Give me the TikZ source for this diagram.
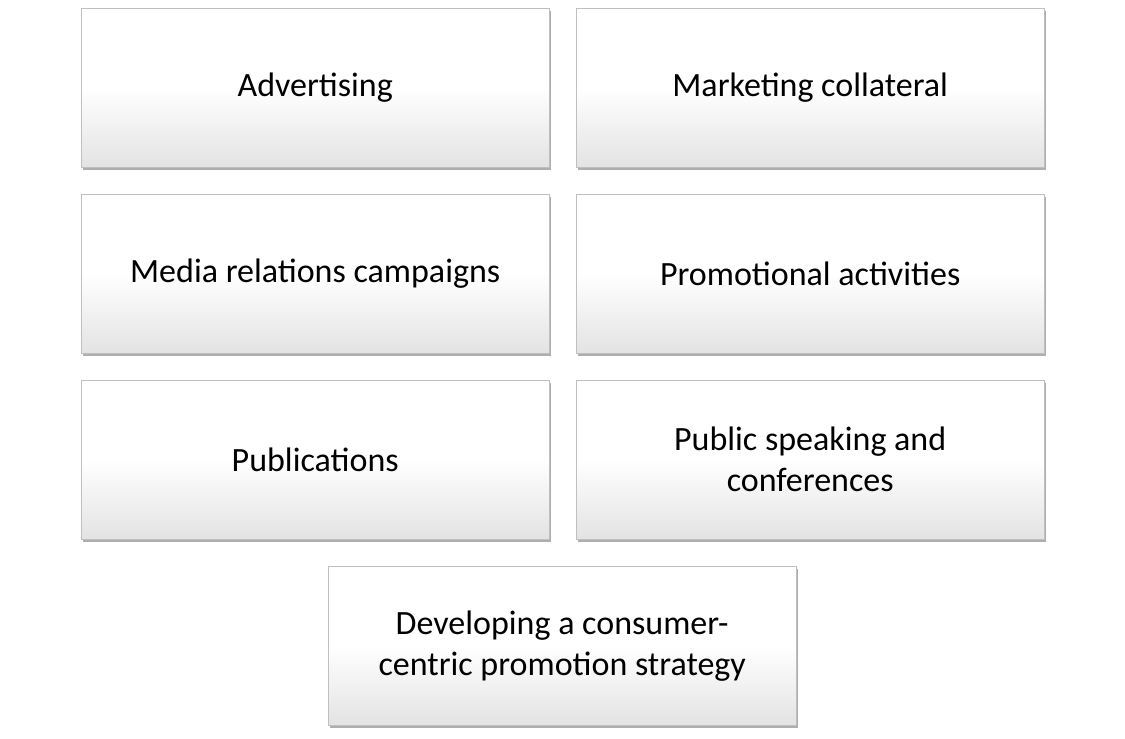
\documentclass[tikz,border=0pt]{standalone}
\usepackage{fontspec}
\setmainfont{Carlito}
\usetikzlibrary{shadows,positioning}
\begin{document}
\begin{tikzpicture}[x=1pt,y=-1pt,
  box/.style={minimum width=468pt,minimum height=159pt,anchor=north west,
    top color=white,bottom color=black!11,middle color=white,
    draw=black!25,line width=0.4pt,align=center,font=\fontsize{34}{41}\selectfont,
    drop shadow={shadow xshift=1.5pt,shadow yshift=-2.5pt,opacity=0.45,fill=black!70}}]
\useasboundingbox (0,0) rectangle (1125,739);
\node[box] (a) at (81,8) {Advertising};
\node[box] (b) at (576,8) {Marketing collateral};
\node[box] (c) at (81,194) {Media relations campaigns};
\node[box] (d) at (576,194) {Promotional activities};
\node[box] (e) at (81,380) {Publications};
\node[box] (f) at (576,380) {Public speaking and\\conferences};
\node[box] (g) at (328,566) {Developing a consumer-\\centric promotion strategy};
\end{tikzpicture}
\end{document}
